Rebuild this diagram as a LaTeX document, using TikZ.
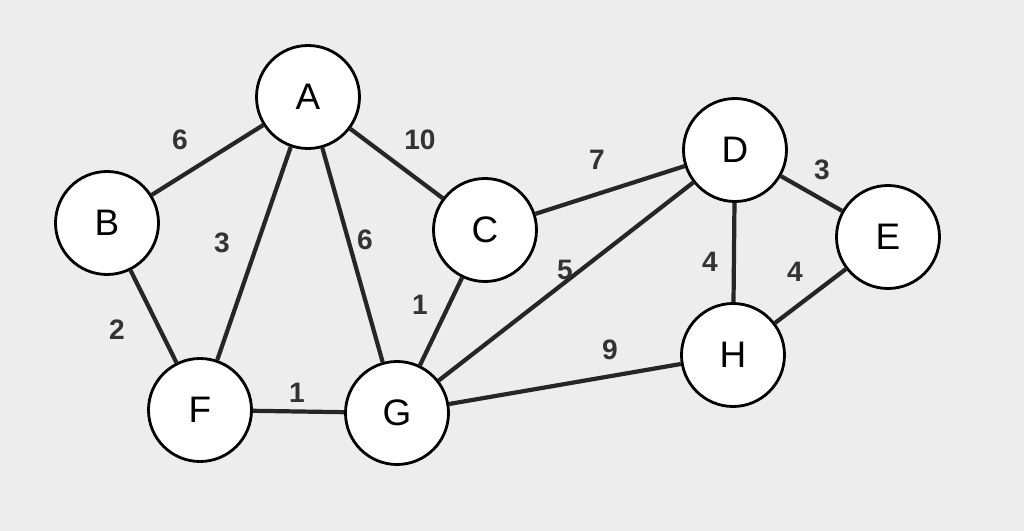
\documentclass[tikz,border=0pt]{standalone}
\usepackage{fontspec}
\setmainfont{Liberation Sans}
\begin{document}
\begin{tikzpicture}[
  vtx/.style={circle,draw=black,line width=1.6pt,fill=white,minimum size=2.06cm,inner sep=0pt,font=\fontsize{21}{23}\selectfont},
  edge/.style={line width=2.4pt,draw=black!85},
  wt/.style={font=\fontsize{16}{18}\selectfont\bfseries,text=black!80}]
\fill[black!7] (0,0) rectangle (20.48,10.62);
\useasboundingbox (0,0) rectangle (20.48,10.62);
\node[vtx] (A) at (6.16,8.68) {A};
\node[vtx] (B) at (2.14,6.16) {B};
\node[vtx] (C) at (9.70,6.02) {C};
\node[vtx] (D) at (14.70,7.62) {D};
\node[vtx] (E) at (17.76,5.88) {E};
\node[vtx] (F) at (4.00,2.42) {F};
\node[vtx] (G) at (7.94,2.36) {G};
\node[vtx] (H) at (14.66,3.52) {H};
\draw[edge] (A)--(B); \draw[edge] (A)--(C); \draw[edge] (A)--(F); \draw[edge] (A)--(G);
\draw[edge] (B)--(F); \draw[edge] (C)--(G); \draw[edge] (C)--(D); \draw[edge] (D)--(G);
\draw[edge] (D)--(E); \draw[edge] (D)--(H); \draw[edge] (H)--(E); \draw[edge] (G)--(H);
\draw[edge] (F)--(G);
\node[wt] (wab) at (3.6,7.82) {6};
\node[wt] (wac) at (8.4,7.82) {10};
\node[wt] (waf) at (4.44,5.76) {3};
\node[wt] (wag) at (7.3,5.82) {6};
\node[wt] (wbf) at (2.34,4.02) {2};
\node[wt] (wcg) at (8.4,4.52) {1};
\node[wt] (wcd) at (11.94,7.42) {7};
\node[wt] (wdg) at (11.3,5.22) {5};
\node[wt] (wde) at (16.44,7.22) {3};
\node[wt] (wdh) at (14.2,5.38) {4};
\node[wt] (whe) at (15.9,5.18) {4};
\node[wt] (wgh) at (12.2,3.62) {9};
\node[wt] (wfg) at (5.94,2.76) {1};
\end{tikzpicture}
\end{document}
